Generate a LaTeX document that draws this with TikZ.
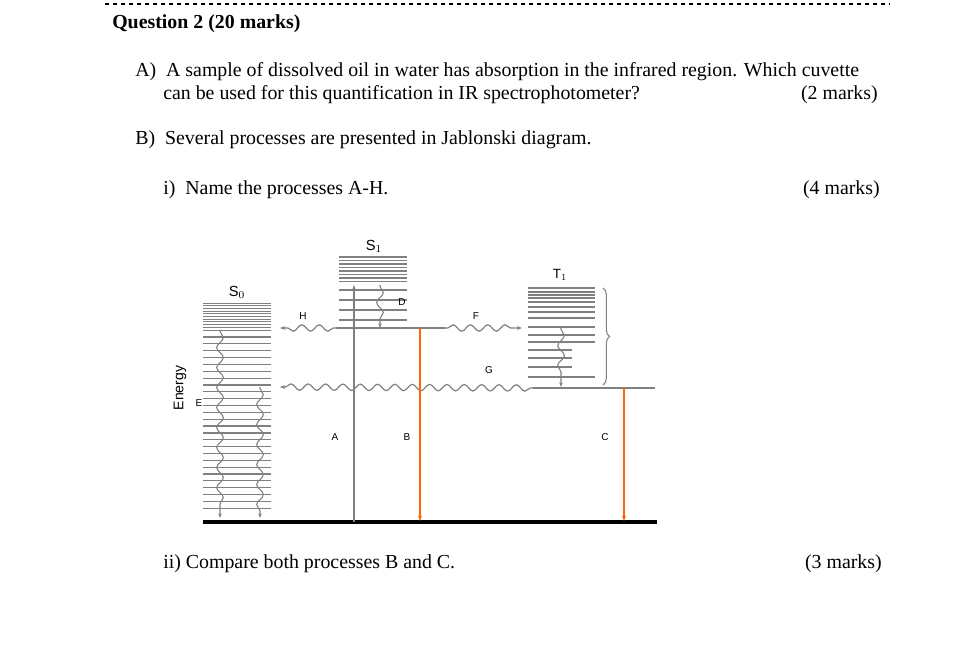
\documentclass[tikz,border=0pt]{standalone}
\usepackage{fontspec}
\setmainfont{Liberation Serif}
\newfontfamily\lsans{Liberation Sans}
\usetikzlibrary{decorations.pathmorphing,decorations.pathreplacing,arrows.meta}
\begin{document}
\begin{tikzpicture}[x=0.75pt,y=-0.75pt,
  lvl/.style={draw=gray,line width=0.9pt},
  wav/.style={draw=gray,line width=0.9pt,decorate,decoration={snake,segment length=13,amplitude=2.4,pre length=2,post length=4},-{Stealth[length=4pt]}},
  vwav/.style={draw=gray,line width=0.8pt,decorate,decoration={snake,segment length=15,amplitude=2.5,pre length=1,post length=4},-{Stealth[length=3.5pt]}},
  em/.style={draw=orange!80!red,line width=1pt,-{Stealth[length=4pt]}},
  lab/.style={font=\lsans\fontsize{7.5}{8}\selectfont,inner sep=0pt},
  txt/.style={anchor=base west,inner sep=0pt,font=\fontsize{14.9}{16}\selectfont}]
\useasboundingbox (0,0) rectangle (966,653);
\draw[dashed,line width=0.8pt] (105,4) -- (890,4);
\node[txt,font=\bfseries\fontsize{14.9}{16}\selectfont] (q) at (112,28) {Question 2 (20 marks)};
\node[txt] (a1) at (135,76) {A)\ \ A sample of dissolved oil in water has absorption in the infrared region. Which cuvette};
\node[txt] (a2) at (163,99) {can be used for this quantification in IR spectrophotometer?};
\node[txt,anchor=base east] (a3) at (878,99) {(2 marks)};
\node[txt] (b1) at (135,144) {B)\ \ Several processes are presented in Jablonski diagram.};
\node[txt] (i1) at (163,194) {i)\ \ Name the processes A-H.};
\node[txt,anchor=base east] (i2) at (880,194) {(4 marks)};
\node[txt] (ii1) at (163,568) {ii) Compare both processes B and C.};
\node[txt,anchor=base east] (ii2) at (882,568) {(3 marks)};
% S0
\foreach \i in {0,...,10} \draw[lvl,line width=0.7pt] (203,303+2.7*\i)--(271,303+2.7*\i);
\foreach \i in {0,...,25} \draw[lvl] (203,337+6.85*\i)--(271,337+6.85*\i);
\coordinate (e1s) at (220,330); \coordinate (e1e) at (220,518);
\coordinate (e2s) at (260,387); \coordinate (e2e) at (260,518);
\draw[vwav] (e1s)--(e1e);
\draw[vwav] (e2s)--(e2e);
% ground
\draw[line width=2.5pt] (203,522)--(657,522);
% S1
\foreach \i in {0,...,7} \draw[lvl] (339,257+3.5*\i)--(407,257+3.5*\i);
\foreach \y in {290,300,310,320} \draw[lvl] (339,\y)--(407,\y);
\coordinate (s1a) at (336,328); \coordinate (s1b) at (445,328);
\draw[lvl] (s1a)--(s1b);
\coordinate (hend) at (280,328);
\draw[wav] (s1a)--(hend);
\coordinate (fend) at (522,328);
\draw[wav] (s1b)--(fend);
\coordinate (d1) at (380,285); \coordinate (d2) at (380,328);
\draw[vwav] (d1)--(d2);
\coordinate (g0) at (354,522); \coordinate (g1) at (354,285);
\draw[lvl,-{Stealth[length=4pt]}] (g0)--(g1);
% T1
\foreach \y in {288,292,295,298,302,307,312,318,327,335,342,377} \draw[lvl] (528,\y)--(595,\y);
\foreach \y in {350,358,367} \draw[lvl] (528,\y)--(572,\y);
\coordinate (t0a) at (533,388); \coordinate (t0b) at (655,388);
\draw[lvl] (t0a)--(t0b);
\coordinate (gend) at (280,387);
\draw[wav] (t0a)--(gend);
\coordinate (tw1) at (561,328); \coordinate (tw2) at (561,387);
\draw[vwav] (tw1)--(tw2);
\coordinate (br1) at (603,288); \coordinate (br2) at (603,385);
\draw[draw=gray,line width=0.8pt,decorate,decoration={brace,amplitude=5pt}] (br1)--(br2);
% emission
\coordinate (b0) at (420,328); \coordinate (b1e) at (420,521);
\draw[em] (b0)--(b1e);
\coordinate (c0) at (624,388); \coordinate (c1e) at (624,521);
\draw[em] (c0)--(c1e);
% labels
\node[lab,font=\lsans\fontsize{11}{12}\selectfont] (ls0) at (237,292) {S$_0$};
\node[lab,font=\lsans\fontsize{11}{12}\selectfont] (ls1) at (374,246) {S$_1$};
\node[lab,font=\lsans\fontsize{10}{11}\selectfont] (lt1) at (560,275) {T$_1$};
\node[lab] (lH) at (303,316) {H};
\node[lab] (lD) at (402,302) {D};
\node[lab] (lF) at (476,316) {F};
\node[lab] (lG) at (489,370) {G};
\node[lab] (lE) at (199,403) {E};
\node[lab] (lA) at (335,437) {A};
\node[lab] (lB) at (407,437) {B};
\node[lab] (lC) at (605,437) {C};
\node[lab,font=\lsans\fontsize{10.5}{11}\selectfont,rotate=90] (len) at (180,388) {Energy};
\end{tikzpicture}
\end{document}
